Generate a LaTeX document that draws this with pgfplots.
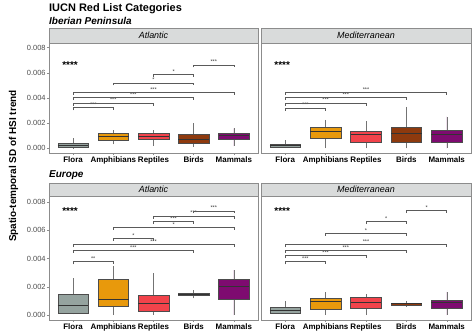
\documentclass[border=0pt]{standalone}
\usepackage{fontspec}
\setmainfont{Liberation Sans}
\usepackage{pgfplots}
\pgfplotsset{compat=1.18}
\usepgfplotslibrary{statistics}

\definecolor{cFlora}{HTML}{95A39F}
\definecolor{cAmph}{HTML}{E8990C}
\definecolor{cRept}{HTML}{F2434B}
\definecolor{cBird}{HTML}{8E3A0E}
\definecolor{cMamm}{HTML}{7E0B70}
\definecolor{frame}{HTML}{8C8C8C}
\definecolor{stripc}{HTML}{D9DBDB}
\definecolor{brk}{HTML}{5A5A5A}

% draw position, lower whisker, lower quartile, median, upper quartile, upper whisker, colour
\newcommand{\bx}[7]{%
  \addplot[boxplot prepared={draw position=#1, lower whisker=#2, lower quartile=#3,
      median=#4, upper quartile=#5, upper whisker=#6, box extend=0.76, whisker extend=0},
      fill=#7, draw=black!70, line width=0.5pt, mark=none] coordinates {};}

% bracket: x1, x2, y, label, tip length
\newcommand{\br}[5]{%
  \pgfmathsetmacro\brlo{#3-#5}%
  \addplot[draw=brk, line width=0.6pt, mark=none] coordinates {(#1,\brlo) (#1,#3) (#2,#3) (#2,\brlo)};
  \node[font=\fontsize{5.5}{6}\selectfont, anchor=base, inner sep=0pt, yshift=1.2bp, text=black!80]
     at (axis cs:{(#1+#2)/2},#3) {#4};}

\pgfplotsset{
  panel/.style={
    scale only axis, width=209bp, xmin=0.4, xmax=5.6,
    xtick={1,2,3,4,5}, xticklabels={Flora,Amphibians,Reptiles,Birds,Mammals},
    xticklabel style={font=\bfseries\fontsize{8}{9}\selectfont, text=black, inner sep=1.5pt},
    ytick={0,2,4,6,8}, yticklabels={0.000,0.002,0.004,0.006,0.008},
    yticklabel style={font=\fontsize{7.5}{8}\selectfont, text=black!70, inner sep=1.2pt},
    axis line style={draw=frame, line width=0.5pt},
    tick style={draw=frame, line width=0.4pt},
    tick align=outside, major tick length=2bp,
    xtick pos=bottom, ytick pos=left,
    clip=false,
    boxplot/draw direction=y,
    boxplot/every whisker/.style={draw=gray!90!black, line width=0.5pt},
    boxplot/every median/.style={draw=black!80, line width=1pt},
  },
  toprow/.style={panel, height=110bp, ymin=-0.37, ymax=8.36},
  botrow/.style={panel, height=124bp, ymin=-0.35, ymax=8.44},
  rightp/.style={ytick=\empty, width=210bp},
}

\begin{document}
\begin{tikzpicture}
\useasboundingbox (0,0) rectangle (474bp,-335bp);

% titles
\node[anchor=base west, inner sep=0pt, font=\bfseries\fontsize{11}{13}\selectfont] at (49bp,-11.5bp) {IUCN Red List Categories};
\node[anchor=base west, inner sep=0pt, font=\bfseries\itshape\fontsize{10}{12}\selectfont] at (49bp,-24.5bp) {Iberian Peninsula};
\node[anchor=base west, inner sep=0pt, font=\bfseries\itshape\fontsize{10}{12}\selectfont] at (49bp,-177.5bp) {Europe};
\node[rotate=90, inner sep=0pt, font=\bfseries\fontsize{10}{12}\selectfont] at (13.5bp,-166bp) {Spatio-temporal SD of HSI trend};

% strips
\draw[fill=stripc, draw=frame, line width=0.5pt] (49bp,-28bp) rectangle (258bp,-43bp);
\node[font=\itshape\fontsize{9}{10}\selectfont] at (153.5bp,-35.5bp) {Atlantic};
\draw[fill=stripc, draw=frame, line width=0.5pt] (261bp,-28bp) rectangle (471bp,-43bp);
\node[font=\itshape\fontsize{9}{10}\selectfont] at (366bp,-35.5bp) {Mediterranean};
\draw[fill=stripc, draw=frame, line width=0.5pt] (49bp,-183bp) rectangle (258bp,-196bp);
\node[font=\itshape\fontsize{9}{10}\selectfont] at (153.5bp,-189.5bp) {Atlantic};
\draw[fill=stripc, draw=frame, line width=0.5pt] (261bp,-183bp) rectangle (471bp,-196bp);
\node[font=\itshape\fontsize{9}{10}\selectfont] at (366bp,-189.5bp) {Mediterranean};

% ---------- Iberian Peninsula, Atlantic ----------
\begin{axis}[toprow, at={(49bp,-43bp)}, anchor=north west]
\bx{1}{0.00}{0.05}{0.22}{0.40}{0.80}{cFlora}
\bx{2}{0.32}{0.63}{0.92}{1.19}{1.45}{cAmph}
\bx{3}{0.18}{0.74}{0.95}{1.19}{1.45}{cRept}
\bx{4}{0.13}{0.40}{0.71}{1.08}{1.98}{cBird}
\bx{5}{0.18}{0.76}{0.98}{1.21}{1.59}{cMamm}
\br{1}{2}{3.22}{***}{0.2}
\br{1}{3}{3.60}{***}{0.2}
\br{1}{4}{4.02}{***}{0.2}
\br{1}{5}{4.44}{***}{0.2}
\br{2}{4}{5.20}{*}{0.2}
\br{3}{4}{5.87}{*}{0.2}
\br{4}{5}{6.63}{***}{0.2}
\node[anchor=base, inner sep=0pt, font=\bfseries\fontsize{10}{10}\selectfont] at (axis cs:0.925,6.33) {****};
\end{axis}

% ---------- Iberian Peninsula, Mediterranean ----------
\begin{axis}[toprow, rightp, at={(261bp,-43bp)}, anchor=north west]
\bx{1}{0.02}{0.08}{0.20}{0.34}{0.66}{cFlora}
\bx{2}{0.00}{0.84}{1.37}{1.67}{2.25}{cAmph}
\bx{3}{0.00}{0.48}{1.11}{1.35}{2.17}{cRept}
\bx{4}{0.00}{0.50}{1.16}{1.64}{3.30}{cBird}
\bx{5}{0.00}{0.45}{1.08}{1.40}{2.51}{cMamm}
\br{1}{2}{3.20}{***}{0.2}
\br{1}{3}{3.60}{***}{0.2}
\br{1}{4}{4.02}{***}{0.2}
\br{1}{5}{4.44}{***}{0.2}
\node[anchor=base, inner sep=0pt, font=\bfseries\fontsize{10}{10}\selectfont] at (axis cs:0.925,6.33) {****};
\end{axis}

% ---------- Europe, Atlantic ----------
\begin{axis}[botrow, at={(49bp,-196bp)}, anchor=north west]
\bx{1}{0.05}{0.16}{0.71}{1.49}{2.60}{cFlora}
\bx{2}{0.00}{0.64}{1.13}{2.53}{3.50}{cAmph}
\bx{3}{0.02}{0.30}{0.83}{1.42}{2.96}{cRept}
\bx{4}{1.18}{1.37}{1.49}{1.58}{1.77}{cBird}
\bx{5}{0.00}{1.13}{2.00}{2.55}{3.19}{cMamm}
\br{1}{2}{3.78}{**}{0.18}
\br{1}{4}{4.59}{***}{0.18}
\br{1}{5}{4.99}{***}{0.18}
\br{2}{3}{5.44}{*}{0.18}
\br{2}{5}{6.22}{*}{0.18}
\br{3}{4}{6.62}{***}{0.18}
\br{3}{5}{7.02}{***}{0.18}
\br{4}{5}{7.38}{***}{0.18}
\node[anchor=base, inner sep=0pt, font=\bfseries\fontsize{10}{10}\selectfont] at (axis cs:0.925,7.16) {****};
\end{axis}

% ---------- Europe, Mediterranean ----------
\begin{axis}[botrow, rightp, at={(261bp,-196bp)}, anchor=north west]
\bx{1}{0.05}{0.12}{0.30}{0.52}{0.99}{cFlora}
\bx{2}{0.00}{0.38}{0.94}{1.16}{1.61}{cAmph}
\bx{3}{0.00}{0.50}{0.87}{1.26}{1.49}{cRept}
\bx{4}{0.59}{0.71}{0.79}{0.87}{0.99}{cBird}
\bx{5}{0.00}{0.50}{0.87}{1.06}{1.65}{cMamm}
\br{1}{2}{3.78}{***}{0.18}
\br{1}{3}{4.21}{***}{0.18}
\br{1}{4}{4.59}{***}{0.18}
\br{1}{5}{4.99}{***}{0.18}
\br{2}{4}{5.79}{*}{0.18}
\br{3}{4}{6.62}{*}{0.18}
\br{4}{5}{7.40}{*}{0.18}
\node[anchor=base, inner sep=0pt, font=\bfseries\fontsize{10}{10}\selectfont] at (axis cs:0.925,7.16) {****};
\end{axis}
\end{tikzpicture}
\end{document}
